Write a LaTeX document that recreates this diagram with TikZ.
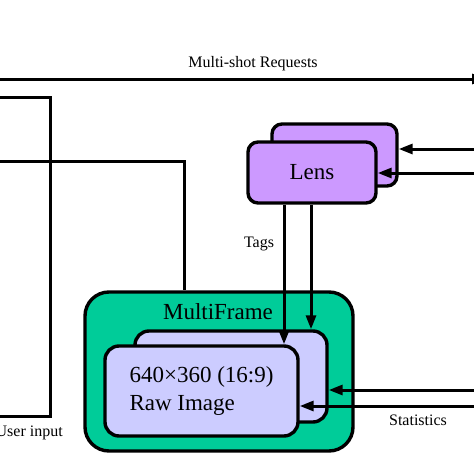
\documentclass[tikz,border=0pt]{standalone}
\usepackage{fontspec}
\setmainfont{Liberation Serif}
\usetikzlibrary{arrows.meta}
\begin{document}
\begin{tikzpicture}[x=1pt,y=-1pt,
  box/.style={draw=black, line width=3.4pt, rounded corners=#1, inner sep=0pt},
  conn/.style={line width=3pt},
  arr/.style={conn, -{Triangle[length=14pt,width=10pt]}},
  big/.style={font=\fontsize{23}{28}\selectfont},
  small/.style={font=\fontsize{16}{19}\selectfont, inner sep=0pt}]
\useasboundingbox (0,0) rectangle (474,474);
\definecolor{lenscol}{HTML}{CC99FF}
\definecolor{imgcol}{HTML}{CCCCFF}
\definecolor{mfcol}{HTML}{00CC99}

% containers and boxes
\node[box=24pt, fill=mfcol, minimum width=268pt, minimum height=159pt] (mf) at (219,371.5) {};
\node[big] (mflabel) at (218,312) {MultiFrame};
\node[box=14pt, fill=imgcol, minimum width=192pt, minimum height=91pt] (imgback) at (231,376.5) {};
\node[box=14pt, fill=imgcol, minimum width=193pt, minimum height=90pt, big, align=left] (img) at (201.5,391) {640×360 (16:9)\\Raw Image};

\node[box=10pt, fill=lenscol, minimum width=125pt, minimum height=62pt] (lensback) at (334.5,155) {};
\node[box=10pt, fill=lenscol, minimum width=128pt, minimum height=61pt, big] (lens) at (312,172.5) {Lens};

% top request line
\coordinate (tl) at (-5,79);
\coordinate (tr) at (486,79);
\draw[arr] (tl) -- (tr);
\node[small] (reqlabel) at (253,64) {Multi-shot Requests};

% user input bracket
\coordinate (u1) at (-5,97);
\coordinate (u2) at (50,97);
\coordinate (u3) at (50,416);
\coordinate (u4) at (-5,416);
\draw[conn] (u1) -- (u2) -- (u3) -- (u4);
\node[small, anchor=east] (uilabel) at (63,433) {User input};

% line into MultiFrame
\coordinate (m1) at (-5,161);
\coordinate (m2) at (184,161);
\draw[conn] (m1) -- (m2) -- (m2 |- mf.north);

% arrows into lens
\coordinate (r1) at (484,149);
\coordinate (r2) at (484,173);
\draw[arr] (r1) -- (r1 -| lensback.east);
\draw[arr] (r2) -- (r2 -| lens.east);

% tags
\coordinate (t1) at (284,203);
\coordinate (t2) at (311,203);
\draw[arr] (t1 |- lens.south) -- (t1 |- img.north);
\draw[arr] (t2 |- lens.south) -- (t2 |- imgback.north);
\node[small] (tagslabel) at (259,244) {Tags};

% statistics
\coordinate (s1) at (484,390);
\coordinate (s2) at (484,406);
\draw[arr] (s1) -- (s1 -| imgback.east);
\draw[arr] (s2) -- (s2 -| img.east);
\node[small] (statlabel) at (418,420) {Statistics};
\end{tikzpicture}
\end{document}
